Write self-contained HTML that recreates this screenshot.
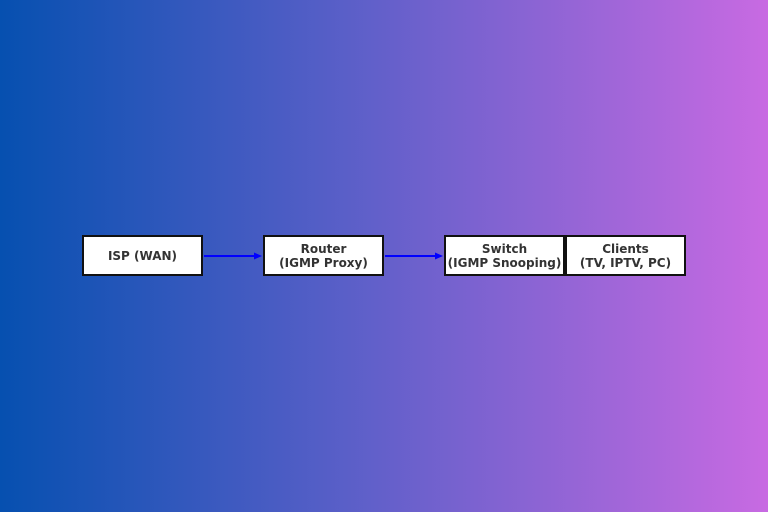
<!DOCTYPE html>
<html><head><style>
body{margin:0}
.c{position:relative;width:768px;height:512px;background:linear-gradient(to right,#0650b0,#5a5fc8 45%,#c86ae2);overflow:hidden;font-family:"DejaVu Sans",sans-serif}
.b{position:absolute;top:235px;height:37px;width:117px;background:#fff;border:2px solid #111;display:flex;align-items:center;justify-content:center;text-align:center;font-weight:bold;font-size:12px;line-height:14px;color:#333}
</style></head><body><div class="c">
<svg width="768" height="512" style="position:absolute;left:0;top:0">
<line x1="204" y1="256" x2="255" y2="256" stroke="#00f" stroke-width="2"/>
<polygon points="262,256 254,252.5 254,259.5" fill="#00f"/>
<line x1="385" y1="256" x2="436" y2="256" stroke="#00f" stroke-width="2"/>
<polygon points="443,256 435,252.5 435,259.5" fill="#00f"/>
</svg>
<div class="b" style="left:82px">ISP (WAN)</div>
<div class="b" style="left:263px">Router<br>(IGMP Proxy)</div>
<div class="b" style="left:444px">Switch<br>(IGMP Snooping)</div>
<div class="b" style="left:565px">Clients<br>(TV, IPTV, PC)</div>
</div></body></html>
